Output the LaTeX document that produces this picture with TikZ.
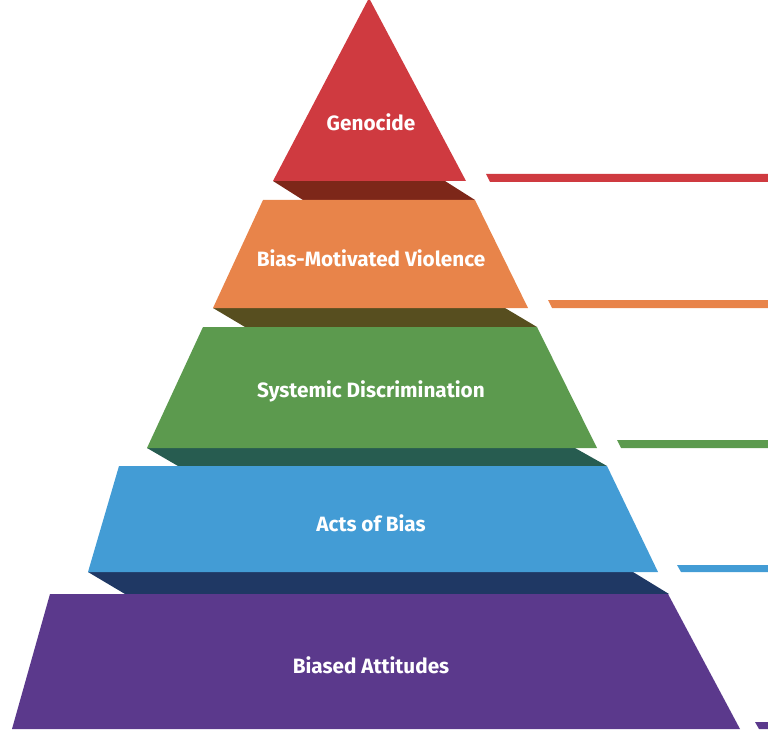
\documentclass[tikz,border=0pt]{standalone}
\usepackage{fontspec}
\setmainfont{Fira Sans}
\usepackage{tikz}
\usetikzlibrary{positioning}
\definecolor{tierred}{RGB}{207,58,64}
\definecolor{tierredshade}{RGB}{125,39,25}
\definecolor{tierorange}{RGB}{232,132,74}
\definecolor{tierorangeshade}{RGB}{87,78,31}
\definecolor{tiergreen}{RGB}{92,154,78}
\definecolor{tiergreenshade}{RGB}{39,92,80}
\definecolor{tierblue}{RGB}{67,156,213}
\definecolor{tierblueshade}{RGB}{31,56,100}
\definecolor{tierpurple}{RGB}{91,57,140}

\begin{document}
\begin{tikzpicture}[x=0.02cm,y=-0.02cm,line join=miter,
  tierlabel/.style={text=white,font=\fontsize{11.8}{13}\selectfont\bfseries}]
 \useasboundingbox (0,0) rectangle (768,740);
 % shade bands under each tier
 \fill[tierredshade] (273,181)--(445,181)--(475,200)--(303,200)--cycle;
 \fill[tierorangeshade] (213,308)--(505,308)--(537,327)--(245,327)--cycle;
 \fill[tiergreenshade] (147,448)--(575,448)--(607,466)--(178,466)--cycle;
 \fill[tierblueshade] (88,572)--(633,572)--(669,594)--(125,594)--cycle;
 % tiers
 \fill[tierred] (369,-2)--(466,181)--(273,181)--cycle;
 \fill[tierorange] (263,200)--(475,200)--(528,308)--(213,308)--cycle;
 \fill[tiergreen] (203,327)--(537,327)--(597,448)--(147,448)--cycle;
 \fill[tierblue] (119,466)--(607,466)--(658,572)--(88,572)--cycle;
 \fill[tierpurple] (50,594)--(668,594)--(740,729)--(12,729)--cycle;
 % lines to the right
 \fill[tierred] (486,174)--(768,174)--(768,182)--(490,182)--cycle;
 \fill[tierorange] (548,300)--(768,300)--(768,308)--(552,308)--cycle;
 \fill[tiergreen] (617,440)--(768,440)--(768,448)--(621,448)--cycle;
 \fill[tierblue] (677,565)--(768,565)--(768,572)--(681,572)--cycle;
 \fill[tierpurple] (755,722)--(768,722)--(768,729)--(759,729)--cycle;
 % labels
 \node[tierlabel] (genocide) at (371,122) {Genocide};
 \node[tierlabel] (violence) at (371,258) {Bias-Motivated Violence};
 \node[tierlabel] (discrimination) at (371,391) {Systemic Discrimination};
 \node[tierlabel] (acts) at (371,523) {Acts of Bias};
 \node[tierlabel] (attitudes) at (371,665) {Biased Attitudes};
\end{tikzpicture}
\end{document}
